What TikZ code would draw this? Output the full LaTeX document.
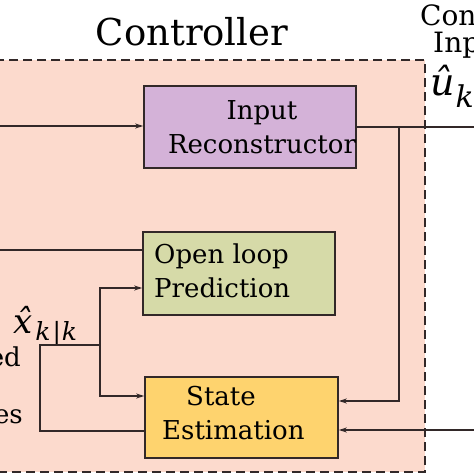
\documentclass[tikz,border=0pt]{standalone}
\usepackage{fontspec}
\setmainfont{DejaVu Serif}
\usetikzlibrary{arrows.meta,calc,positioning}

\definecolor{ctrlpink}{RGB}{252,218,205}
\definecolor{irpurple}{RGB}{212,178,216}
\definecolor{olpgreen}{RGB}{214,218,168}
\definecolor{segold}{RGB}{254,211,110}
\definecolor{wiregray}{RGB}{50,40,40}

\begin{document}
\begin{tikzpicture}[x=1pt,y=-1pt,>={Stealth[length=8pt,width=5pt]},
  block/.style={draw=wiregray,line width=1.6pt,inner sep=0pt},
  blocktext/.style={font=\fontsize{26}{34}\selectfont,inner sep=0pt},
  wire/.style={draw=wiregray,line width=1.4pt}]
\useasboundingbox (0,0) rectangle (474,474);
\clip (0,0) rectangle (474,474);

% controller frame
\draw[fill=ctrlpink,draw=wiregray,line width=1.5pt,dash pattern=on 9pt off 5pt] (-10,60) rectangle (425,472);
\node (ctrl) at (192,32) {\fontsize{37}{44}\selectfont Controller};

% blocks
\node[block,fill=irpurple,minimum width=212pt,minimum height=82pt] (ir) at (250,127) {};
\node[block,fill=olpgreen,minimum width=192pt,minimum height=83pt] (olp) at (239,273.5) {};
\node[block,fill=segold,minimum width=193pt,minimum height=81pt] (se) at (241.5,417.5) {};
\node[blocktext,align=center] (irtxt) at (262,127) {Input\\Reconstructor};
\node[blocktext,align=left,anchor=west] (olptxt) at (154,271) {Open loop\\Prediction};
\node[blocktext,align=left,anchor=west] (setxt) at (162,413) {\hspace*{24pt}State\\Estimation};

% labels
\node[anchor=base west,inner sep=0pt,font=\itshape] (xhat) at (13,333)
  {\fontsize{34}{36}\selectfont x\char"0302\kern3pt\raisebox{-7pt}{\fontsize{25}{27}\selectfont k\kern2pt|\kern1pt k}};
\node[blocktext,anchor=base east] (lbla) at (21,366) {ed};
\node[blocktext,anchor=base east] (lblb) at (23,423) {es};
\node[blocktext,anchor=base west,font=\fontsize{28}{34}\selectfont] (cona) at (420,25) {Con};
\node[blocktext,anchor=base west,font=\fontsize{28}{34}\selectfont] (conb) at (433,52) {Inp};
\node[anchor=base west,inner sep=0pt,font=\itshape] (uhat) at (430,95)
  {\fontsize{38}{40}\selectfont û\kern1pt\raisebox{-12pt}{\fontsize{30}{32}\selectfont k}};

% connectors
\coordinate (irin) at (-5,126);
\coordinate (uout) at (480,127);
\coordinate (split) at (399,127);
\coordinate (olpout) at (-5,250);
\coordinate (yin) at (480,430);
\coordinate (fbx) at (40,345);
\coordinate (fork) at (100,345);

\draw[wire,->] (irin) -- (irin -| ir.west);
\draw[wire] (ir.east) -- (uout);
\draw[wire,->] (split) |- ($(se.east)+(0,-16.5)$);
\draw[wire,->] (yin) -- (yin -| se.east);
\draw[wire] (olp.west |- olpout) -- (olpout);
\draw[wire] ($(se.west)+(0,13.5)$) -| (fbx) -- (fork);
\draw[wire,->] (fork) |- ($(olp.west)+(0,14.5)$);
\draw[wire,->] (fork) |- ($(se.west)+(0,-21.5)$);
\end{tikzpicture}
\end{document}
